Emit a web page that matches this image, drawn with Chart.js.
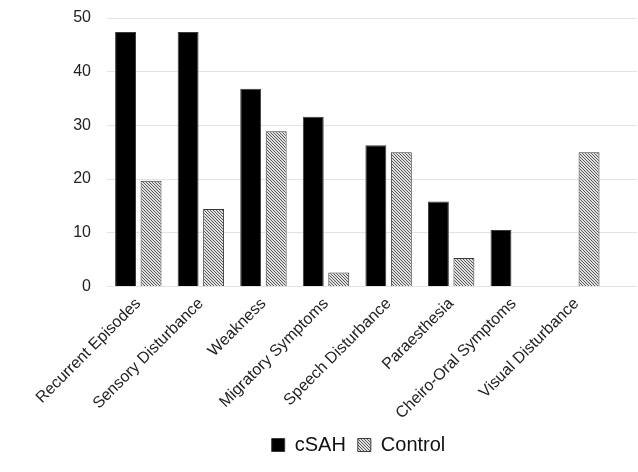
<!DOCTYPE html>
<html>
<head>
<meta charset="utf-8">
<script src="https://cdn.jsdelivr.net/npm/chart.js@4"></script>
<style>
    html, body { margin: 0; padding: 0; background: #fff; }
    #wrap { width: 638px; height: 472px; position: relative; }
</style>
</head>
<body>
<div id="wrap"><canvas id="symptomChart"></canvas></div>
<script>
// ================================
// Data
// ================================
const categories = [
    "Recurrent Episodes", "Sensory Disturbance", "Weakness", "Migratory Symptoms",
    "Speech Disturbance", "Paraesthesia", "Cheiro-Oral Symptoms", "Visual Disturbance"
];
const csahValues = [47.4, 47.4, 36.8, 31.6, 26.3, 15.8, 10.5, 0];
const controlValues = [19.7, 14.4, 28.9, 2.6, 25.0, 5.3, 0, 25.0];
const yTicks = [0, 10, 20, 30, 40, 50];

// empty room to the right of the last category (in category units)
const xSlack = 0.47;

// ================================
// Hatch pattern for the control bars
// ================================
function makeHatch() {
    const c = document.createElement("canvas");
    c.width = 3;
    c.height = 3;
    const g = c.getContext("2d");
    g.fillStyle = "#e0e0e0";
    g.fillRect(0, 0, 3, 3);
    g.fillStyle = "#5a5a5a";
    // one dark pixel per row, stepping right -> "\" stripes
    for (let i = 0; i < 3; i++) {
        g.fillRect(i, i, 1, 1);
    }
    return g.createPattern(c, "repeat");
}
const hatch = makeHatch();

// legend sits a little right of the page centre in the original
const legendNudge = {
    id: "legendNudge",
    afterLayout(chart) {
        if (chart.legend) chart.legend.left += 8;
    }
};

Chart.defaults.font.family = "'Liberation Sans', Arial, sans-serif";
Chart.defaults.color = "#222";

new Chart(document.getElementById("symptomChart"), {
    type: "bar",
    data: {
        labels: categories,
        datasets: [
            {
                label: "cSAH",
                data: csahValues,
                backgroundColor: "#000",
                borderColor: "#3a3a3a",
                borderWidth: 1,
                categoryPercentage: 0.815,
                barPercentage: 0.82
            },
            {
                label: "Control",
                data: controlValues,
                backgroundColor: hatch,
                borderColor: "#3a3a3a",
                borderWidth: 1,
                categoryPercentage: 0.815,
                barPercentage: 0.82
            }
        ]
    },
    plugins: [legendNudge],
    options: {
        responsive: true,
        maintainAspectRatio: false,
        animation: false,
        layout: {
            autoPadding: false,
            padding: { left: 72, right: 1, top: 18, bottom: 7 }
        },
        plugins: {
            tooltip: { enabled: false },
            legend: {
                position: "bottom",
                labels: {
                    boxWidth: 13,
                    boxHeight: 13,
                    padding: 12,
                    color: "#111",
                    font: { size: 20 }
                }
            }
        },
        scales: {
            x: {
                grid: { display: false },
                border: { display: false },
                afterBuildTicks: function (axis) {
                    axis._valueRange = categories.length + xSlack;
                },
                ticks: {
                    maxRotation: 45,
                    minRotation: 45,
                    padding: 0,
                    color: "#222",
                    font: { size: 16 }
                }
            },
            y: {
                min: yTicks[0],
                max: yTicks[yTicks.length - 1],
                afterBuildTicks: function (axis) {
                    axis.ticks = yTicks.map(v => ({ value: v }));
                },
                afterFit: function (axis) {
                    axis.width = 35;
                    axis.paddingTop = 0;
                    axis.paddingBottom = 0;
                },
                grid: { color: "#e3e3e3", lineWidth: 1, drawTicks: false },
                border: { display: false },
                ticks: {
                    padding: 16,
                    color: "#222",
                    font: { size: 16 }
                }
            }
        }
    }
});
</script>
</body>
</html>
